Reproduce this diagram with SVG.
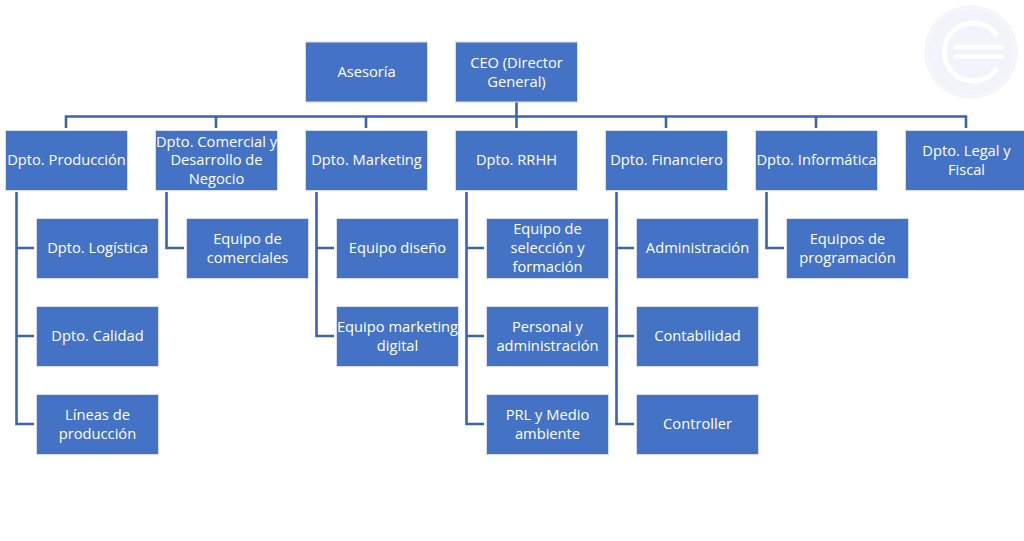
<svg xmlns="http://www.w3.org/2000/svg" width="1024" height="541" viewBox="0 0 1024 541">
<style>
.n rect{fill:#4472c4;stroke:#d5deef;stroke-width:1}
.n text{fill:#fff;font-family:"Open Sans","Noto Sans",sans-serif;font-size:14.7px;text-anchor:middle}
#connectors path{fill:none;stroke:#3b64ad;stroke-width:2.6}
</style>
<rect width="1024" height="541" fill="#fff"/>
<g id="logo">
<circle cx="971" cy="52" r="46.5" fill="#f2f3fb"/>
<circle cx="971" cy="52" r="44" fill="none" stroke="#fafbfe" stroke-width="1"/>
<path d="M996 34A29 29 0 1 0 996 70" fill="none" stroke="#fff" stroke-width="5" stroke-linecap="round"/>
<path d="M956 47H1002M956 56.500H1002" fill="none" stroke="#fff" stroke-width="4.500" stroke-linecap="round"/>
</g>
<g id="connectors">
<path d="M66 128V116.500H966V128M216 116.500V128M366 116.500V128M516.500 102V128M666 116.500V128M816 116.500V128"/>
<path d="M16.500 192V424H34M16.500 248H34M16.500 336H34"/>
<path d="M166.500 192V248H184"/>
<path d="M316.500 192V336H334M316.500 248H334"/>
<path d="M466.500 192V424H484M466.500 248H484M466.500 336H484"/>
<path d="M616.500 192V424H634M616.500 248H634M616.500 336H634"/>
<path d="M766.500 192V248H784"/>
</g>
<g id="n-asesoria" class="n"><rect x="305.500" y="42" width="122" height="60"/><text x="366.500" y="77">Asesoría</text></g>
<g id="n-ceo" class="n"><rect x="455.500" y="42" width="122" height="60"/><text x="516.500" y="67.500">CEO (Director</text><text x="516.500" y="86.500">General)</text></g>
<g id="n-produccion" class="n"><rect x="5.500" y="130.500" width="122" height="60"/><text x="66.500" y="165">Dpto. Producción</text></g>
<g id="n-comercial" class="n"><rect x="155.500" y="130.500" width="122" height="60"/><text x="216.500" y="146.500">Dpto. Comercial y</text><text x="216.500" y="165">Desarrollo de</text><text x="216.500" y="184">Negocio</text></g>
<g id="n-marketing" class="n"><rect x="305.500" y="130.500" width="122" height="60"/><text x="366.500" y="165">Dpto. Marketing</text></g>
<g id="n-rrhh" class="n"><rect x="455.500" y="130.500" width="122" height="60"/><text x="516.500" y="165">Dpto. RRHH</text></g>
<g id="n-financiero" class="n"><rect x="605.500" y="130.500" width="122" height="60"/><text x="666.500" y="165">Dpto. Financiero</text></g>
<g id="n-informatica" class="n"><rect x="755.500" y="130.500" width="122" height="60"/><text x="816.500" y="165">Dpto. Informática</text></g>
<g id="n-legal" class="n"><rect x="905.500" y="130.500" width="122" height="60"/><text x="966.500" y="155.500">Dpto. Legal y</text><text x="966.500" y="174.500">Fiscal</text></g>
<g id="n-logistica" class="n"><rect x="36.500" y="218.500" width="122" height="60"/><text x="97.500" y="253">Dpto. Logística</text></g>
<g id="n-calidad" class="n"><rect x="36.500" y="306.500" width="122" height="60"/><text x="97.500" y="341">Dpto. Calidad</text></g>
<g id="n-lineas" class="n"><rect x="36.500" y="394.500" width="122" height="60"/><text x="97.500" y="419.500">Líneas de</text><text x="97.500" y="438.500">producción</text></g>
<g id="n-comerciales" class="n"><rect x="186.500" y="218.500" width="122" height="60"/><text x="247.500" y="243.500">Equipo de</text><text x="247.500" y="262.500">comerciales</text></g>
<g id="n-diseno" class="n"><rect x="336.500" y="218.500" width="122" height="60"/><text x="397.500" y="253">Equipo diseño</text></g>
<g id="n-digital" class="n"><rect x="336.500" y="306.500" width="122" height="60"/><text x="397.500" y="331.500">Equipo marketing</text><text x="397.500" y="350.500">digital</text></g>
<g id="n-seleccion" class="n"><rect x="486.500" y="218.500" width="122" height="60"/><text x="547.500" y="234">Equipo de</text><text x="547.500" y="253">selección y</text><text x="547.500" y="272">formación</text></g>
<g id="n-personal" class="n"><rect x="486.500" y="306.500" width="122" height="60"/><text x="547.500" y="331.500">Personal y</text><text x="547.500" y="350.500">administración</text></g>
<g id="n-prl" class="n"><rect x="486.500" y="394.500" width="122" height="60"/><text x="547.500" y="419.500">PRL y Medio</text><text x="547.500" y="438.500">ambiente</text></g>
<g id="n-administracion" class="n"><rect x="636.500" y="218.500" width="122" height="60"/><text x="697.500" y="253">Administración</text></g>
<g id="n-contabilidad" class="n"><rect x="636.500" y="306.500" width="122" height="60"/><text x="697.500" y="341">Contabilidad</text></g>
<g id="n-controller" class="n"><rect x="636.500" y="394.500" width="122" height="60"/><text x="697.500" y="429">Controller</text></g>
<g id="n-programacion" class="n"><rect x="786.500" y="218.500" width="122" height="60"/><text x="847.500" y="243.500">Equipos de</text><text x="847.500" y="262.500">programación</text></g>
</svg>
